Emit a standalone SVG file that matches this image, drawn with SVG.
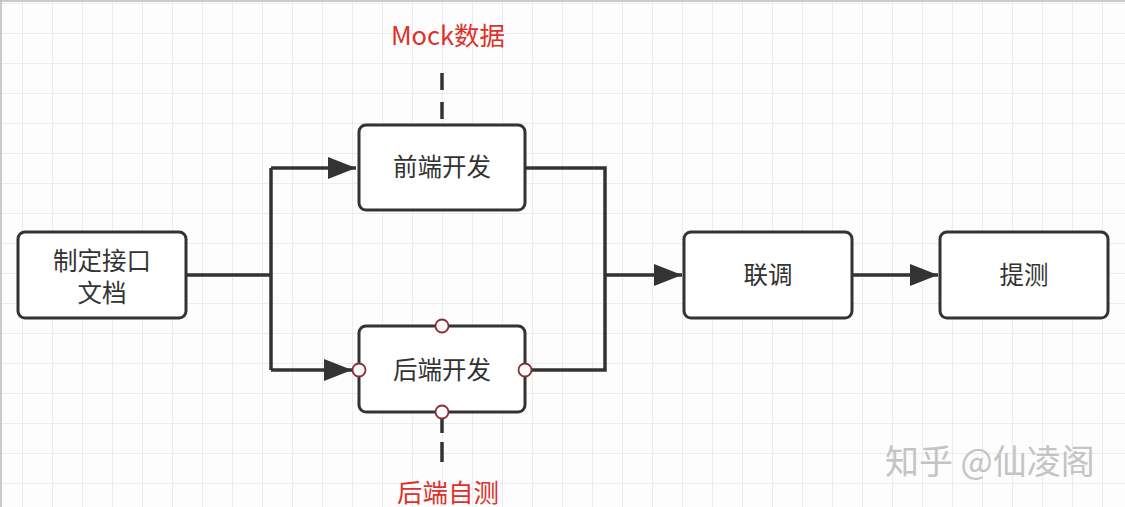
<svg xmlns="http://www.w3.org/2000/svg" width="1125" height="507" viewBox="0 0 1125 507">
<style>
.node rect{fill:#fff;stroke:#333;stroke-width:3}
.node text{font-family:"Noto Sans CJK SC","Liberation Sans",sans-serif;font-size:24.5px;fill:#333;text-anchor:middle}
.conn{fill:none;stroke:#333;stroke-width:3.5}
.dash{fill:none;stroke:#333;stroke-width:3.5}
.note{font-family:"Noto Sans CJK SC","Liberation Sans",sans-serif;font-size:25.5px;fill:#e0302c;text-anchor:middle}
.port{fill:#fff;stroke:#8b2c33;stroke-width:1.8}
.wm{font-family:"Noto Sans CJK SC",sans-serif;font-size:34px;fill:#c4c4c4}
</style>
<defs>
<pattern id="grid" x="22" y="3" width="30" height="30" patternUnits="userSpaceOnUse">
<path d="M0,0 H30 M0,0 V30" fill="none" stroke="#e6e6e6" stroke-width="1.5"/>
</pattern>
<marker id="arr" markerUnits="userSpaceOnUse" markerWidth="30" markerHeight="22" refX="28" refY="11" orient="auto">
<path d="M0,0 L28,11 L0,22 Z" fill="#333"/>
</marker>
</defs>
<rect x="0" y="0" width="1125" height="507" fill="#fdfdfd"/>
<rect x="0" y="0" width="1125" height="507" fill="url(#grid)"/>
<path d="M1,0 V507 M0,1 H1125" stroke="#bbb" stroke-width="1.5" fill="none"/>

<g id="connectors">
<path class="conn" d="M186,275 H271"/>
<path class="conn" d="M271,168 V370"/>
<path class="conn" d="M271,168 H356" marker-end="url(#arr)"/>
<path class="conn" d="M271,370 H352" marker-end="url(#arr)"/>
<path class="conn" d="M525,168 H605 V370 H525"/>
<path class="conn" d="M605,275 H682" marker-end="url(#arr)"/>
<path class="conn" d="M852,275 H938" marker-end="url(#arr)"/>
<path class="dash" d="M442,73 V125" stroke-dasharray="17 12"/>
<path class="dash" d="M442,412 V462" stroke-dasharray="21 9"/>
</g>

<g id="n-doc" class="node">
<rect x="18" y="232" width="168" height="86" rx="7"/>
<text x="102" y="270">制定接口</text>
<text x="102" y="302">文档</text>
</g>
<g id="n-front" class="node">
<rect x="359" y="125" width="166" height="85" rx="7"/>
<text x="442" y="176">前端开发</text>
</g>
<g id="n-back" class="node">
<rect x="359" y="326" width="166" height="86" rx="7"/>
<text x="442" y="379">后端开发</text>
<circle class="port" cx="442" cy="326" r="6.5"/>
<circle class="port" cx="359" cy="370" r="6.5"/>
<circle class="port" cx="525" cy="370" r="6.5"/>
<circle class="port" cx="442" cy="412" r="6.5"/>
</g>
<g id="n-joint" class="node">
<rect x="684" y="232" width="168" height="86" rx="7"/>
<text x="768" y="284">联调</text>
</g>
<g id="n-test" class="node">
<rect x="940" y="232" width="168" height="86" rx="7"/>
<text x="1024" y="284">提测</text>
</g>

<g id="notes">
<text class="note" x="448" y="45">Mock数据</text>
<text class="note" x="448" y="502">后端自测</text>
</g>

<text class="wm" x="885" y="474">知乎 @仙凌阁</text>
</svg>
